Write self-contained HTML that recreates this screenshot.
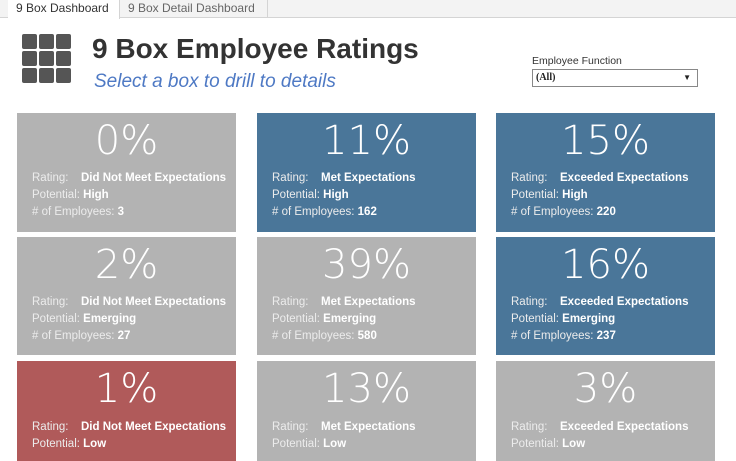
<!DOCTYPE html>
<html><head><meta charset="utf-8"><style>
*{margin:0;padding:0;box-sizing:border-box}
body{width:736px;height:454px;overflow:hidden;background:#fff;font-family:"Liberation Sans",sans-serif;position:relative}
.tabbar{position:absolute;left:0;top:0;width:736px;height:18px;background:#f3f3f3;border-bottom:1px solid #d4d4d4}
.tab{position:absolute;top:0;height:18px;font-size:12px;line-height:17px;color:#333;padding-left:8px}
.t1{left:8px;width:112px;background:#fff;height:19px;border-right:1px solid #d4d4d4}
.t2{left:120px;width:148px;color:#666;border-right:1px solid #d4d4d4}
.icon{position:absolute;left:22px;top:34px;width:48px;height:48px}
.icon i{position:absolute;width:15px;height:15px;background:#555;border-radius:2px}
.title{position:absolute;left:92px;top:33px;font-size:28px;font-weight:bold;color:#333}
.sub{position:absolute;left:94px;top:70px;height:18px;overflow:hidden;font-size:19px;font-style:italic;color:#4e79c4;line-height:24px}
.fl{position:absolute;left:532px;top:55px;font-size:10.5px;color:#333}
.sel{position:absolute;left:532px;top:69px;width:166px;height:18px;border:1px solid #888;font-family:"Liberation Serif",serif;font-size:10px;font-weight:bold;line-height:16px;padding-left:3px;color:#222}
.sel b{position:absolute;right:6px;top:0;font-size:8px}
.box{position:absolute;width:219px;color:#fff}
.g{background:#b3b3b3}.b{background:#4a7699}.r{background:#b05a5a}
.pct{position:absolute;left:0;width:100%;top:5px;text-align:center;font-family:"DejaVu Sans",sans-serif;font-size:40px;font-weight:200;line-height:46px}
.ln{position:absolute;left:15px;font-size:11.5px;color:#ececec;white-space:nowrap}
.ln span{color:#fff;font-weight:bold}
.rt span{position:absolute;left:49px}
</style></head><body>
<div class="tabbar"></div>
<div class="tab t1">9 Box Dashboard</div>
<div class="tab t2">9 Box Detail Dashboard</div>
<div class="icon">
<i style="left:0;top:0"></i><i style="left:17px;top:0"></i><i style="left:34px;top:0"></i>
<i style="left:0;top:17px"></i><i style="left:17px;top:17px"></i><i style="left:34px;top:17px"></i>
<i style="left:0;top:34px"></i><i style="left:17px;top:34px"></i><i style="left:34px;top:34px"></i>
</div>
<div class="title">9 Box Employee Ratings</div>
<div class="sub">Select a box to drill to details</div>
<div class="fl">Employee Function</div>
<div class="sel">(All)<b>▼</b></div>

<div class="box g" style="left:17px;top:113px;height:119px"><div class="pct">0%</div><div class="ln rt" style="top:59px">Rating: <span>Did Not Meet Expectations</span></div><div class="ln" style="top:76px">Potential: <span>High</span></div><div class="ln" style="top:93px"># of Employees: <span>3</span></div></div>
<div class="box b" style="left:257px;top:113px;height:119px"><div class="pct">11%</div><div class="ln rt" style="top:59px">Rating: <span>Met Expectations</span></div><div class="ln" style="top:76px">Potential: <span>High</span></div><div class="ln" style="top:93px"># of Employees: <span>162</span></div></div>
<div class="box b" style="left:496px;top:113px;height:119px"><div class="pct">15%</div><div class="ln rt" style="top:59px">Rating: <span>Exceeded Expectations</span></div><div class="ln" style="top:76px">Potential: <span>High</span></div><div class="ln" style="top:93px"># of Employees: <span>220</span></div></div>

<div class="box g" style="left:17px;top:237px;height:118px"><div class="pct">2%</div><div class="ln rt" style="top:59px">Rating: <span>Did Not Meet Expectations</span></div><div class="ln" style="top:76px">Potential: <span>Emerging</span></div><div class="ln" style="top:93px"># of Employees: <span>27</span></div></div>
<div class="box g" style="left:257px;top:237px;height:118px"><div class="pct">39%</div><div class="ln rt" style="top:59px">Rating: <span>Met Expectations</span></div><div class="ln" style="top:76px">Potential: <span>Emerging</span></div><div class="ln" style="top:93px"># of Employees: <span>580</span></div></div>
<div class="box b" style="left:496px;top:237px;height:118px"><div class="pct">16%</div><div class="ln rt" style="top:59px">Rating: <span>Exceeded Expectations</span></div><div class="ln" style="top:76px">Potential: <span>Emerging</span></div><div class="ln" style="top:93px"># of Employees: <span>237</span></div></div>

<div class="box r" style="left:17px;top:361px;height:100px"><div class="pct">1%</div><div class="ln rt" style="top:60px">Rating: <span>Did Not Meet Expectations</span></div><div class="ln" style="top:77px">Potential: <span>Low</span></div></div>
<div class="box g" style="left:257px;top:361px;height:100px"><div class="pct">13%</div><div class="ln rt" style="top:60px">Rating: <span>Met Expectations</span></div><div class="ln" style="top:77px">Potential: <span>Low</span></div></div>
<div class="box g" style="left:496px;top:361px;height:100px"><div class="pct">3%</div><div class="ln rt" style="top:60px">Rating: <span>Exceeded Expectations</span></div><div class="ln" style="top:77px">Potential: <span>Low</span></div></div>
</body></html>
